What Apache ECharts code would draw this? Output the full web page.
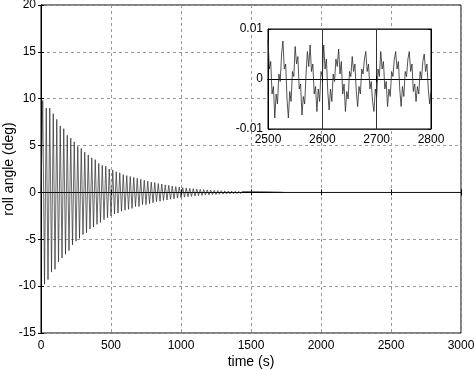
<!DOCTYPE html>
<html><head><meta charset="utf-8">
<script src="https://cdn.jsdelivr.net/npm/echarts@6/dist/echarts.min.js"></script>
<style>html,body{margin:0;padding:0;background:#fff}#c{width:474px;height:370px}</style>
</head><body><div id="c"></div>
<script>
const mainStep = 12.5;
const mainValues = [0, 9.8, -9.8, 9.0, -9.3, 9.0, -8.5, 8.4, -8.2, 7.8, -7.4, 7.1, -7.0, 6.8, -6.6, 6.1, -6.2,
  5.8, -5.6, 5.4, -5.2, 4.9, -4.9, 4.7, -4.5, 4.3, -4.3, 4.0, -3.9, 3.7, -3.7, 3.5, -3.4, 3.1, -3.2,
  2.9, -2.9, 2.8, -2.7, 2.5, -2.5, 2.4, -2.3, 2.2, -2.2, 2.1, -2.0, 1.9, -1.9, 1.8, -1.8, 1.7, -1.7,
  1.6, -1.5, 1.5, -1.5, 1.4, -1.3, 1.3, -1.3, 1.2, -1.2, 1.1, -1.1, 1.05, -1.0, 0.95, -0.95, 0.9, -0.85,
  0.8, -0.8, 0.75, -0.72, 0.68, -0.68, 0.62, -0.6, 0.58, -0.55, 0.52, -0.5, 0.48, -0.46, 0.43, -0.42,
  0.4, -0.38, 0.36, -0.34, 0.33, -0.32, 0.3, -0.28, 0.27, -0.26, 0.25, -0.24, 0.22, -0.21, 0.2, -0.19,
  0.18, -0.18, 0.17, -0.16, 0.15, -0.15, 0.14, -0.13, 0.13, -0.12, 0.12, -0.11, 0.11, -0.1, 0.1, -0.1,
  0.1, -0.09, 0.09, -0.09, 0.09, -0.08, 0.08, -0.08, 0.08, -0.07, 0.07, -0.07, 0.06, -0.06, 0.05, -0.05,
  0.04, -0.04, 0.03, -0.03, 0];
// residual (near zero at main scale) until the end
const tailTimes = [3000];
const tailValues = [0];

// Inset trace (units of 0.001 deg), sampled every insetStep seconds from insetStart
const insetStart = 2500;
const insetStep = 2.5;
const insetMilli = [8.0, 2.0, 3.5, -3.0, -1.5, -7.8, -3.0, -5.0, 1.0, -0.5,
  5.0, 7.6, 2.0, 3.0, -4.0, -7.8, -2.5, -4.5, 1.5, 0.5,
  6.5, 3.0, 4.5, -2.0, -1.0, -7.2, -3.5, -5.0, 1.0, 5.5,
  2.5, 6.8, 1.5, 3.0, -3.0, -1.5, -6.5, -2.0, -4.5, 1.5,
  0.5, 6.8, 2.0, 4.0, -2.5, -6.2, -2.0, -4.5, 1.0, -0.5,
  4.0, 2.5, 6.0, 1.0, 3.5, -3.0, -1.0, -6.5, -2.5, -4.0,
  1.5, 0.5, 4.5, 1.5, 3.0, -2.5, -5.5, -1.5, -3.0, 2.0,
  1.0, 4.0, 5.5, 1.5, 3.0, -2.0, -0.5, -4.5, -6.5, -2.0,
  -3.5, 2.0, 0.5, 5.5, 2.0, 3.5, -2.0, -0.5, -5.5, -2.0,
  -3.5, 1.5, 0.5, 4.0, 5.5, 2.0, 3.5, -2.0, -5.5, -1.5,
  -3.5, 1.5, 0.5, 4.0, 5.5, 1.5, 3.0, -2.5, -1.0, -4.5,
  -1.5, -3.0, 1.5, 0.0, 3.5, 5.0, 1.5, 3.0, -2.0, -5.0, -2.5];

const xName = 'time (s)';
const yName = 'roll angle (deg)';

const mainData = mainValues.map((v, i) => [i * mainStep, v])
  .concat(tailTimes.map((t, i) => [t, tailValues[i]]));
const insetData = insetMilli.map((v, i) => [insetStart + i * insetStep, v / 1000]);

const FF = '"Liberation Sans", Arial, sans-serif';
const plain = v => String(v);
const lbl = { color: '#000', fontSize: 12, fontFamily: FF, formatter: plain };
const tick = { inside: true, length: 3, lineStyle: { color: '#000' } };
const line = { lineStyle: { color: '#000', width: 1 } };
const dash = { lineStyle: { type: [3, 3], color: '#999', width: 1 } };

const chart = echarts.init(document.getElementById('c'), null, { renderer: 'canvas' });
chart.setOption({
  animation: false,
  backgroundColor: '#fff',
  grid: [
    { left: 41, top: 5, width: 420, height: 328, show: true, borderColor: '#000', borderWidth: 1, z: 0,
      containLabel: false, outerBoundsMode: 'none' },
    { left: 268, top: 29, width: 163, height: 100, show: true, backgroundColor: '#fff', borderColor: '#000', borderWidth: 1, z: 10,
      containLabel: false, outerBoundsMode: 'none' }
  ],
  xAxis: [
    { gridIndex: 0, type: 'value', min: 0, max: 3000, interval: 500, axisLine: line, axisTick: tick,
      axisLabel: Object.assign({ margin: 7 }, lbl), splitLine: dash,
      name: xName, nameLocation: 'middle', nameGap: 22, nameMoveOverlap: false,
      nameTextStyle: { color: '#000', fontSize: 14, fontFamily: FF } },
    { gridIndex: 0, type: 'value', position: 'top', min: 0, max: 3000, interval: 500, axisLine: line, axisTick: tick,
      axisLabel: { show: false }, splitLine: { show: false } },
    { gridIndex: 1, type: 'value', min: 2500, max: 2800, interval: 100, z: 11, axisLine: line, axisTick: tick,
      axisLabel: Object.assign({ margin: 5 }, lbl), splitLine: { lineStyle: { color: '#333', width: 1 } } },
    { gridIndex: 1, type: 'value', position: 'top', min: 2500, max: 2800, interval: 100, z: 11, axisLine: line, axisTick: tick,
      axisLabel: { show: false }, splitLine: { show: false } }
  ],
  yAxis: [
    { gridIndex: 0, type: 'value', min: -15, max: 20, interval: 5, axisLine: line, axisTick: tick,
      axisLabel: Object.assign({ margin: 5 }, lbl), splitLine: dash,
      name: yName, nameLocation: 'middle', nameGap: 25, nameMoveOverlap: false,
      nameTextStyle: { color: '#000', fontSize: 14, fontFamily: FF } },
    { gridIndex: 0, type: 'value', position: 'right', min: -15, max: 20, interval: 5, axisLine: line, axisTick: tick,
      axisLabel: { show: false }, splitLine: { show: false } },
    { gridIndex: 1, type: 'value', min: -0.01, max: 0.01, interval: 0.01, z: 11, axisLine: line, axisTick: tick,
      axisLabel: Object.assign({ margin: 5 }, lbl), splitLine: { lineStyle: { color: '#333', width: 1 } } },
    { gridIndex: 1, type: 'value', position: 'right', min: -0.01, max: 0.01, interval: 0.01, z: 11, axisLine: line, axisTick: tick,
      axisLabel: { show: false }, splitLine: { show: false } }
  ],
  series: [
    { type: 'line', xAxisIndex: 0, yAxisIndex: 0, data: mainData, showSymbol: false, z: 2,
      lineStyle: { color: '#2a2a2a', width: 0.7 } },
    { type: 'line', xAxisIndex: 2, yAxisIndex: 2, data: insetData, showSymbol: false, z: 12,
      lineStyle: { color: '#2a2a2a', width: 0.8 } }
  ]
});
</script></body></html>
